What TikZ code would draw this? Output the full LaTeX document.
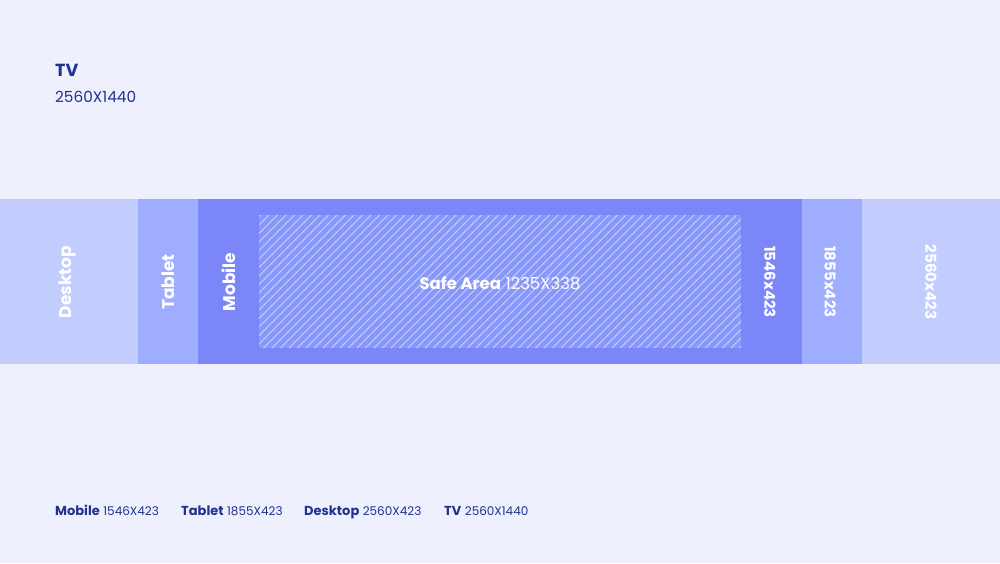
\documentclass[tikz,border=0pt]{standalone}
\usepackage{fontspec}
\setmainfont{Poppins}
\definecolor{bg}{HTML}{EEF1FD}
\definecolor{desk}{HTML}{C2CCFD}
\definecolor{tab}{HTML}{9EADFD}
\definecolor{mob}{HTML}{7B87F8}
\definecolor{safe}{HTML}{8797FA}
\definecolor{navy}{HTML}{22318E}
\begin{document}
\begin{tikzpicture}[x=1pt,y=-1pt,
  band/.style={draw=none,anchor=north west,inner sep=0pt,outer sep=0pt},
  vlabel/.style={text=white,font=\fontsize{17}{20}\selectfont\bfseries},
  vnum/.style={text=white,font=\fontsize{15}{18}\selectfont\bfseries},
  legend/.style={text=navy,anchor=base west,inner sep=0pt,font=\fontsize{13}{15}\selectfont}]
\fill[bg] (0,0) rectangle (1000,563);
\useasboundingbox (0,0) rectangle (1000,563);
% bands
\node[band,fill=desk,minimum width=138pt,minimum height=165pt] (dl) at (0,199) {};
\node[band,fill=tab,minimum width=60pt,minimum height=165pt] (tl) at (138,199) {};
\node[band,fill=mob,minimum width=604pt,minimum height=165pt] (mb) at (198,199) {};
\node[band,fill=tab,minimum width=60pt,minimum height=165pt] (tr) at (802,199) {};
\node[band,fill=desk,minimum width=138pt,minimum height=165pt] (dr) at (862,199) {};
% safe area
\node[band,fill=safe,minimum width=482pt,minimum height=133pt] (sa) at (259,215) {};
\begin{scope}
\clip (sa.north west) rectangle (sa.south east);
\foreach \i in {0,8.5,...,640}{
  \draw[white,opacity=0.55,line width=1pt] (259+\i-140,348) -- (259+\i,208);
}
\end{scope}
% band labels
\node[vlabel,rotate=90] (dlt) at (67,282) {Desktop};
\node[vlabel,rotate=90] (tlt) at (168,282) {Tablet};
\node[vlabel,rotate=90] (mbt) at (229,282) {Mobile};
\node[vnum,rotate=-90] (mbn) at (770,282) {1546x423};
\node[vnum,rotate=-90] (trn) at (830,282) {1855x423};
\node[vnum,rotate=-90] (drn) at (931,282) {2560x423};
\node[text=white,font=\fontsize{16.5}{19}\selectfont] (sat) at (500,283) {\textbf{Safe Area} 1235X338};
% title
\node[legend,font=\fontsize{17.5}{20}\selectfont\bfseries] (tv) at (55,76) {TV};
\node[legend,font=\fontsize{15.3}{18}\selectfont] (tvs) at (55,102) {2560X1440};
% legend
\node[legend] (l1) at (55,515) {\textbf{Mobile} {\fontsize{12}{14}\selectfont 1546X423}};
\node[legend] (l2) at (181,515) {\textbf{Tablet} {\fontsize{12}{14}\selectfont 1855X423}};
\node[legend] (l3) at (304,515) {\textbf{Desktop} {\fontsize{12}{14}\selectfont 2560X423}};
\node[legend] (l4) at (444,515) {\textbf{TV} {\fontsize{12}{14}\selectfont 2560X1440}};
\end{tikzpicture}
\end{document}
